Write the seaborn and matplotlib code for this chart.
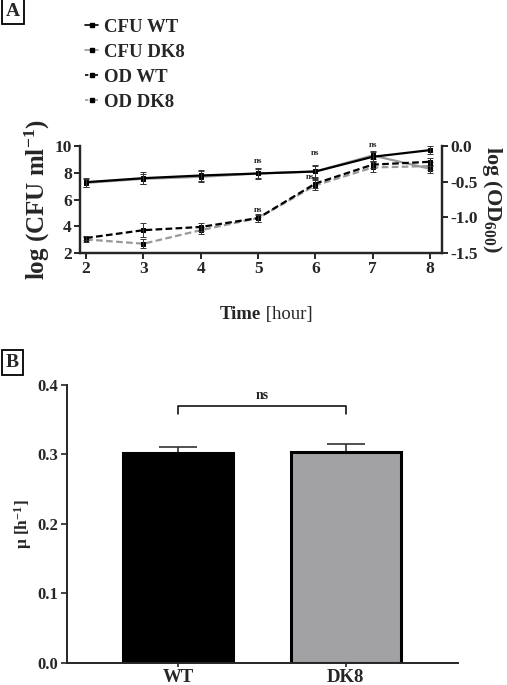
import numpy as np
import pandas as pd
import seaborn as sns
from matplotlib import pyplot as plt
from matplotlib.lines import Line2D

sns.set_style("ticks")
plt.rcParams['font.family'] = ['Liberation Serif', 'DejaVu Serif']
plt.rcParams['mathtext.fontset'] = 'custom'
plt.rcParams['mathtext.rm'] = 'Liberation Serif'
plt.rcParams['mathtext.bf'] = 'Liberation Serif:bold'
plt.rcParams['mathtext.default'] = 'bf'

# growth curve (panel A)
hours = [2, 3, 4, 5, 6, 7, 8]
cfu_wt = [7.3, 7.6, 7.8, 7.95, 8.1, 9.2, 9.7]
cfu_wt_err = [0.35, 0.45, 0.4, 0.4, 0.45, 0.35, 0.3]
cfu_dk8 = [7.25, 7.55, 7.7, 7.95, 8.1, 9.3, 8.3]
cfu_dk8_err = [0.3, 0.35, 0.4, 0.35, 0.4, 0.3, 0.3]
od_wt = [-1.29, -1.18, -1.135, -1.01, -0.525, -0.26, -0.22]
od_wt_err = [0.03, 0.1, 0.05, 0.06, 0.06, 0.05, 0.06]
od_dk8 = [-1.31, -1.37, -1.18, -1.01, -0.55, -0.3, -0.28]
od_dk8_err = [0.03, 0.06, 0.05, 0.05, 0.07, 0.07, 0.06]

# growth rate (panel B)
strains = ["WT", "DK8"]
mu = [0.302, 0.304]
mu_err = [0.008, 0.011]

fig = plt.figure(figsize=(5.07, 6.85), dpi=100)

# ---- panel A ----
ax = fig.add_axes([0.158, 0.6307, 0.714, 0.156])
ax2 = ax.twinx()

def draw(a, y, err, color, ls, zo):
    sns.lineplot(x=hours, y=y, ax=a, color=color, linestyle=ls, linewidth=1.6,
                 marker="s", markersize=3, markeredgecolor="black",
                 markerfacecolor="black", zorder=zo)
    a.errorbar(hours, y, yerr=err, fmt="none", ecolor="#333333",
               elinewidth=0.7, capsize=2, capthick=0.7, zorder=zo)

draw(ax, cfu_dk8, cfu_dk8_err, "#999999", "-", 2)
draw(ax, cfu_wt, cfu_wt_err, "black", "-", 3)
draw(ax2, od_dk8, od_dk8_err, "#999999", (0, (3, 1.5)), 2)
draw(ax2, od_wt, od_wt_err, "black", (0, (3, 1.5)), 3)

ax.set_xlim(1.895, 8.21)
ax.set_ylim(2, 10)
ax2.set_ylim(-1.5, 0)
ax.set_xticks(hours)
ax.set_yticks([2, 4, 6, 8, 10])
ax2.set_yticks([-1.5, -1.0, -0.5, 0.0])
ax2.set_yticklabels(["-1.5", "-1.0", "-0.5", "0.0"])
for a in (ax, ax2):
    a.tick_params(labelsize=12.5, width=1.4, length=4, pad=2)
    for lab in a.get_xticklabels() + a.get_yticklabels():
        lab.set_fontweight("bold")
    for s in a.spines.values():
        s.set_linewidth(1.6)
ax.spines["top"].set_visible(False)
ax2.spines["top"].set_visible(False)

ax.set_ylabel("log (CFU ml$^{-1}$)", fontsize=18, fontweight="bold", labelpad=2)
ax2.set_ylabel("log (OD$_{600}$)", fontsize=16, fontweight="bold",
               rotation=270, labelpad=19)
ax.set_xlabel("")
ax2.set_xlabel("")
ax.text(0.5, -0.58, "Time", transform=ax.transAxes, fontsize=13.5,
        fontweight="bold", ha="right", va="center")
ax.text(0.5, -0.58, " [hour]", transform=ax.transAxes, fontsize=13.5,
        ha="left", va="center")

for (xx, yy) in [(5, 8.9), (6, 9.5), (7, 10.05), (5, 5.2), (5.9, 7.7)]:
    ax.text(xx, yy, "ns", fontsize=6.5, fontweight="bold", ha="center",
            va="center", clip_on=False)

handles = [
    Line2D([], [], color="black", ls="-", lw=1.2, marker="s", ms=2.5),
    Line2D([], [], color="#999999", ls="-", lw=1.2, marker="s", ms=2.5,
           mfc="black", mec="black"),
    Line2D([], [], color="black", ls=(0, (2, 1)), lw=1.2, marker="s", ms=2.5),
    Line2D([], [], color="#999999", ls=(0, (2, 1)), lw=1.2, marker="s", ms=2.5,
           mfc="black", mec="black"),
]
fig.legend(handles, ["CFU WT", "CFU DK8", "OD WT", "OD DK8"],
           loc="upper left", bbox_to_anchor=(0.135, 0.997), frameon=False,
           handlelength=0.7, handletextpad=0.3, labelspacing=0.42,
           prop={"weight": "bold", "size": 13.5})

# ---- panel B ----
bx = fig.add_axes([0.132, 0.0321, 0.771, 0.406])
df = pd.DataFrame({"strain": strains, "mu": mu})
sns.barplot(data=df, x="strain", y="mu", ax=bx, hue="strain",
            palette=["black", "#a2a1a6"], width=0.655, legend=False,
            edgecolor="black", linewidth=2.2)
bx.errorbar([0, 1], mu, yerr=[[0, 0], mu_err], fmt="none", ecolor="#333333",
            elinewidth=1.2, capsize=14, capthick=1.2, zorder=0)
bx.set_xlim(-0.661, 1.667)
bx.set_ylim(0, 0.4)
bx.set_yticks([0.0, 0.1, 0.2, 0.3, 0.4])
bx.set_yticklabels(["0.0", "0.1", "0.2", "0.3", "0.4"])
bx.tick_params(axis="y", labelsize=12, width=1.2, length=4, pad=2)
bx.tick_params(axis="x", labelsize=13.5, width=1.2, length=3, pad=1)
for lab in bx.get_xticklabels() + bx.get_yticklabels():
    lab.set_fontweight("bold")
bx.set_xlabel("")
bx.set_ylabel("μ [h$^{-1}$]", fontsize=12.5, fontweight="bold", labelpad=3)
for s in ["left", "bottom"]:
    bx.spines[s].set_linewidth(1.4)
sns.despine(ax=bx)

bx.plot([0, 0, 1, 1], [0.358, 0.37, 0.37, 0.358], color="black", lw=1.1)
bx.text(0.5, 0.385, "ns", fontsize=10, fontweight="bold", ha="center",
        va="center")

for lbl, yy in [("A", 0.996), ("B", 0.483)]:
    fig.text(0.012, yy, lbl, fontsize=14, fontweight="bold", va="top",
             ha="left", bbox=dict(boxstyle="square,pad=0.2", fc="white",
                                  ec="black", lw=1.3))

fig.savefig("out.png", dpi=100)
